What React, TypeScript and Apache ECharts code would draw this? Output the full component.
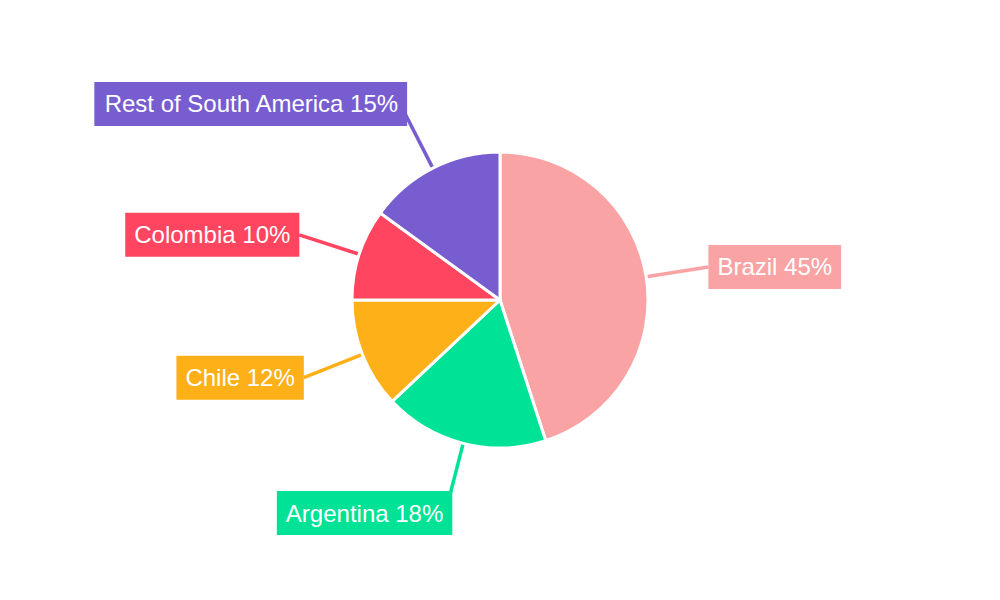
import React, { useEffect, useRef } from 'react';
import * as echarts from 'echarts';

const countries = ['Brazil', 'Argentina', 'Chile', 'Colombia', 'Rest of South America'];
const shares = [45, 18, 12, 10, 15];
const colors = ['#F9A3A4', '#00E396', '#FEB019', '#FF4560', '#775DD0'];

const App: React.FC = () => {
    const chartRef = useRef<HTMLDivElement>(null);

    useEffect(() => {
        if (!chartRef.current) return;
        document.body.style.margin = '0';

        const chart = echarts.init(chartRef.current, undefined, { renderer: 'svg' });

        // steep leader lines run a little longer so their boxes clear the pie
        const steep = (i: number) => i === 1 || i === 4;

        const option: echarts.EChartsOption = {
            animation: false,
            backgroundColor: '#fff',
            series: [
                {
                    type: 'pie',
                    center: ['50%', '50%'],
                    radius: 148,
                    startAngle: 90,
                    clockwise: true,
                    avoidLabelOverlap: false,
                    itemStyle: { borderColor: '#fff', borderWidth: 3 },
                    label: {
                        show: true,
                        formatter: '{b} {c}%',
                        color: '#fff',
                        fontFamily: 'Arial, Liberation Sans, sans-serif',
                        fontSize: 24,
                        lineHeight: 26,
                        padding: [9, 9],
                        distanceToLabelLine: 0,
                    },
                    labelLine: {
                        show: true,
                        length: 63,
                        length2: 0,
                        lineStyle: { width: 3.5 },
                    },
                    labelLayout: (params: any) => (steep(params.dataIndex) ? { dx: 7 } : {}),
                    emphasis: { disabled: true },
                    data: countries.map((name, i) => ({
                        name,
                        value: shares[i],
                        itemStyle: { color: colors[i] },
                        label: { backgroundColor: colors[i] },
                        labelLine: { length: steep(i) ? 72 : 63 },
                    })),
                },
            ],
        };

        chart.setOption(option);

        return () => {
            chart.dispose();
        };
    }, []);

    return <div ref={chartRef} style={{ width: 1000, height: 600 }} />;
};

export default App;
